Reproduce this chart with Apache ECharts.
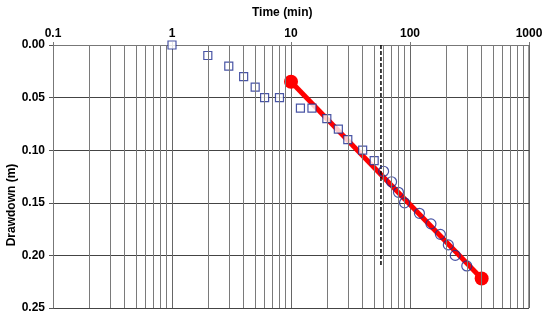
<!DOCTYPE html>
<html>
<head>
<meta charset="utf-8">
<script src="https://cdn.jsdelivr.net/npm/echarts@6/dist/echarts.min.js"></script>
<style>html,body{margin:0;padding:0;background:#fff}#c{width:550px;height:319px}</style>
</head>
<body>
<div id="c"></div>
<script>
var earlyTime = [1, 2, 3, 4, 5, 6, 8, 12, 15, 20, 25, 30, 40, 50];
var earlyDrawdown = [0.00, 0.01, 0.02, 0.03, 0.04, 0.05, 0.05, 0.06, 0.06, 0.07, 0.08, 0.09, 0.10, 0.11];
var lateTime = [60, 70, 80, 90, 120, 150, 180, 210, 240, 300];
var lateDrawdown = [0.12, 0.13, 0.14, 0.15, 0.16, 0.17, 0.18, 0.19, 0.20, 0.21];
var fitTime = [10, 400];
var fitDrawdown = [0.035, 0.222];
var markerTime = 57;
var markerDrawdown = [0, 0.21];
var decades = [0.1, 1, 10, 100];
var yTicks = [0, 0.05, 0.1, 0.15, 0.2, 0.25];

function pairs(xs, ys) { return xs.map(function (x, i) { return [x, ys[i]]; }); }
var minorLines = [];
decades.forEach(function (d) {
  for (var k = 2; k <= 9; k++) minorLines.push({ xAxis: +(k * d).toPrecision(6) });
});

var chart = echarts.init(document.getElementById('c'), null, { renderer: 'canvas' });
var font = 'Liberation Sans, Arial, sans-serif';
chart.setOption({
  animation: false,
  backgroundColor: '#fff',
  grid: { left: 53, right: 21, top: 45, bottom: 11, containLabel: false },
  xAxis: {
    type: 'log', logBase: 10, min: 0.1, max: 1000, position: 'top',
    axisLine: { show: true, lineStyle: { color: '#777', width: 1 } },
    axisTick: { show: true, inside: false, length: 3, lineStyle: { color: '#777' } },
    axisLabel: { color: '#000', fontFamily: font, fontWeight: 'bold', fontSize: 12, margin: 5,
      formatter: function (v) { return String(+v.toPrecision(6)); } },
    splitLine: { show: true, lineStyle: { color: '#666', width: 1 } },
    minorTick: { show: false }, minorSplitLine: { show: false }
  },
  yAxis: {
    type: 'value', inverse: true, min: 0, max: 0.25, interval: 0.05,
    axisLine: { show: true, lineStyle: { color: '#777', width: 1 } },
    axisTick: { show: true, inside: false, length: 4, lineStyle: { color: '#555' } },
    axisLabel: { color: '#000', fontFamily: font, fontWeight: 'bold', fontSize: 12, margin: 8,
      formatter: function (v) { return v.toFixed(2); } },
    splitLine: { show: true, lineStyle: { color: '#444', width: 1 } }
  },
  graphic: [
    { type: 'text', left: 252, top: 7, style: { text: 'Time (min)', font: 'bold 12px ' + font, fill: '#000' } },
    { type: 'text', x: 12, y: 205, rotation: Math.PI / 2, style: { text: 'Drawdown (m)', font: 'bold 12px ' + font, fill: '#000', align: 'center', verticalAlign: 'middle' } },
    { type: 'rect', shape: { x: 529, y: 45, width: 0, height: 263 }, style: { stroke: '#777', lineWidth: 1, fill: null }, silent: true }
  ],
  series: [
    {
      type: 'line', data: [], silent: true, symbol: 'none',
      markLine: { silent: true, symbol: 'none', label: { show: false }, animation: false,
        lineStyle: { color: '#7a7a7a', width: 1, type: 'solid' }, data: minorLines }
    },
    {
      type: 'line', data: pairs(fitTime, fitDrawdown), z: 2,
      lineStyle: { color: '#ff0000', width: 5 }, itemStyle: { color: '#ff0000' },
      symbol: 'circle', symbolSize: 14, showAllSymbol: true
    },
    {
      type: 'line', data: [[markerTime, markerDrawdown[0]], [markerTime, markerDrawdown[1]]], z: 3,
      symbol: 'none', lineStyle: { color: '#000', width: 1.5, type: [4, 2] }
    },
    {
      type: 'scatter', data: pairs(earlyTime, earlyDrawdown), z: 4,
      symbol: 'rect', symbolSize: 8,
      itemStyle: { color: '#fff', borderColor: '#1c2a8f', borderWidth: 1.2 }
    },
    {
      type: 'scatter', data: pairs(lateTime, lateDrawdown), z: 4,
      symbol: 'circle', symbolSize: 10,
      itemStyle: { color: 'rgba(255,255,255,0)', borderColor: '#1c2a8f', borderWidth: 1.2 }
    }
  ]
});
</script>
</body>
</html>
